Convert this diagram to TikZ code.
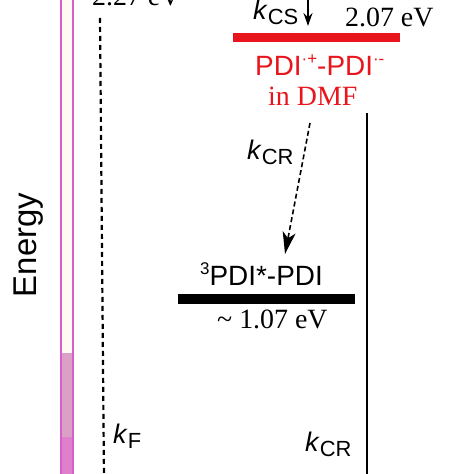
\documentclass[tikz,border=0pt]{standalone}
\usepackage{fontspec}
\setmainfont{Liberation Serif}
\setsansfont{Liberation Sans}
\usetikzlibrary{arrows.meta}
\definecolor{pinkline}{RGB}{214,96,200}
\definecolor{pinklight}{RGB}{218,160,200}
\definecolor{pinkdark}{RGB}{222,128,204}
\definecolor{cream}{RGB}{255,250,244}
\definecolor{myred}{RGB}{232,22,28}
\newcommand\rate[1]{{\sffamily\fontsize{27}{27}\selectfont\textit{k}\raisebox{-5bp}{\fontsize{22}{22}\selectfont #1}}}
\begin{document}
\begin{tikzpicture}[x=1bp,y=-1bp,
  lbl/.style={inner sep=0pt,anchor=base west},
  serif/.style={lbl,font=\fontsize{28}{28}\selectfont},
  sans/.style={lbl,font=\sffamily\fontsize{28}{28}\selectfont},
  level/.style={line width=10bp},
  flow/.style={line width=1.6bp,-{Stealth[length=13bp,width=9bp]}},
  dflow/.style={line width=1.6bp,dash pattern=on 5bp off 3bp,-{Stealth[length=22bp,width=13bp,inset=6bp]}}]
\useasboundingbox (0,0) rectangle (474,474);
\clip (0,0) rectangle (474,474);
% pink excitation bar
\fill[cream] (61,-5) rectangle (73,480);
\fill[pinklight] (61,353) rectangle (73,437);
\fill[pinkdark] (61,437) rectangle (73,480);
\draw[pinkline,line width=2bp] (61,-5) -- (61,480) (73,-5) -- (73,480);
% energy axis label
\node[font=\sffamily\fontsize{33}{33}\selectfont,rotate=90,inner sep=0pt] (energy) at (29,245) {Energy};
% dashed fluorescence line
\coordinate (fTop) at (100,18);
\coordinate (fBot) at (104,480);
\draw[line width=2.2bp,dash pattern=on 5bp off 4bp] (fTop) -- (fBot);
\node[serif] (e227) at (92,6) {2.27 eV};
\node[lbl] (kF) at (113,443) {\rate{F}};
% CS level
\coordinate (csA) at (233,37.5);
\coordinate (csB) at (400,37.5);
\draw[level,myred,line width=9bp] (csA) -- (csB);
\coordinate (csTop) at (308,-5);
\coordinate (csEnd) at (308,26);
\draw[flow] (csTop) -- (csEnd);
\node[lbl] (kCS) at (253,20) {\rate{CS}};
\node[serif] (e207) at (345,27) {2.07 eV};
\node[sans,text=myred] (cs) at (255,76) {PDI\raisebox{11bp}{\fontsize{17}{17}\selectfont ·+}-PDI\raisebox{11bp}{\fontsize{17}{17}\selectfont ·-}};
\node[serif,text=myred] (dmf) at (268,106) {in DMF};
% charge recombination to triplet
\coordinate (crA) at (310,123);
\coordinate (crB) at (285,254);
\draw[dflow] (crA) -- (crB);
\node[lbl] (kCR1) at (247,160) {\rate{CR}};
% triplet level
\node[sans] (trip) at (200,285) {\raisebox{11bp}{\fontsize{17}{17}\selectfont 3}PDI*-PDI};
\coordinate (tA) at (178,298.5);
\coordinate (tB) at (355,298.5);
\draw[level] (tA) -- (tB);
\node[serif] (e107) at (217,328) {\textasciitilde\ 1.07 eV};
% direct recombination line
\coordinate (vTop) at (367,113);
\coordinate (vBot) at (367,480);
\draw[line width=1.8bp] (vTop) -- (vBot);
\node[lbl] (kCR2) at (305,451) {\rate{CR}};
\end{tikzpicture}
\end{document}
